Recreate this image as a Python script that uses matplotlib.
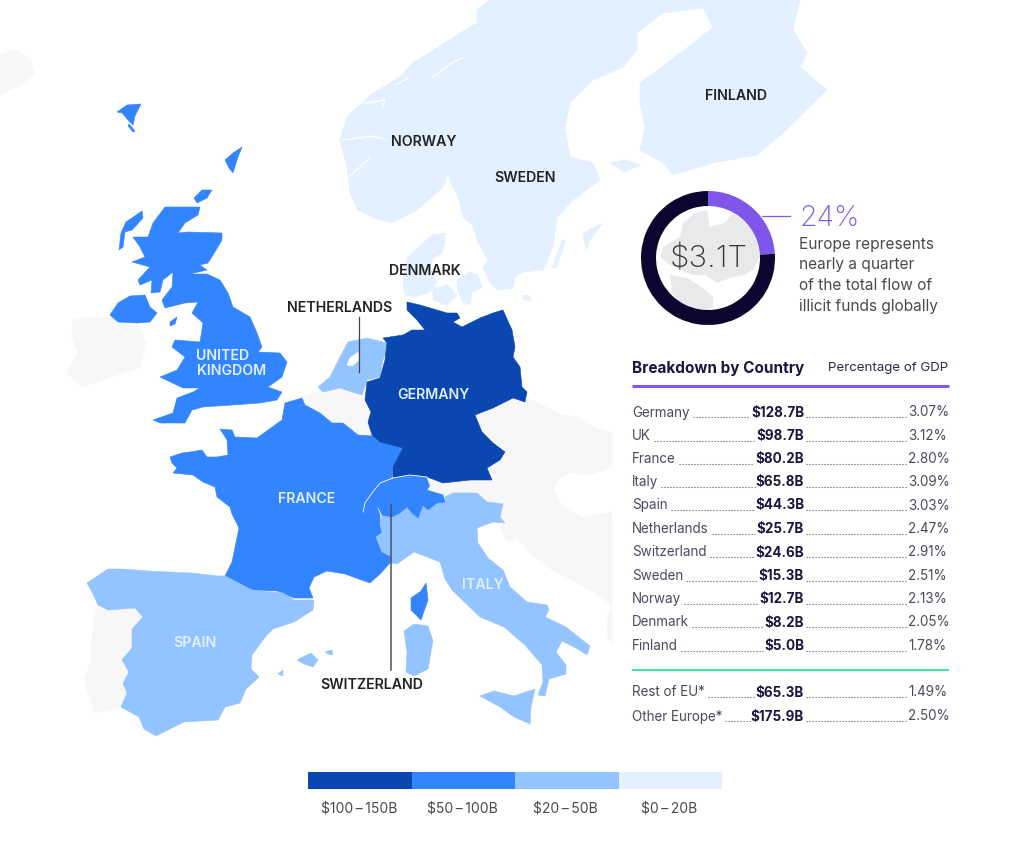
import matplotlib
matplotlib.use("Agg")
import matplotlib.pyplot as plt
from matplotlib.patches import Polygon, Wedge, Circle

plt.rcParams["font.family"] = ["Inter", "DejaVu Sans"]

DARK = "#0b47b1"
MID = "#3285ff"
LIGHT = "#94c4ff"
PALE = "#e2f0ff"
GREY = "#f7f7f7"
NAVY = "#0a0630"
PURPLE = "#7f56ea"
GREEN = "#2ee58f"

# --- table -------------------------------------------------------------------
countries = ["Germany", "UK", "France", "Italy", "Spain", "Netherlands", "Switzerland",
             "Sweden", "Norway", "Denmark", "Finland"]
amounts = ["$128.7B", "$98.7B", "$80.2B", "$65.8B", "$44.3B", "$25.7B", "$24.6B",
           "$15.3B", "$12.7B", "$8.2B", "$5.0B"]
gdp_pct = ["3.07%", "3.12%", "2.80%", "3.09%", "3.03%", "2.47%", "2.91%",
           "2.51%", "2.13%", "2.05%", "1.78%"]
other_names = ["Rest of EU*", "Other Europe*"]
other_amounts = ["$65.3B", "$175.9B"]
other_pct = ["1.49%", "2.50%"]

# --- donut + legend ----------------------------------------------------------
europe_share = 24
legend_labels = ["$100\u2009–\u2009150B", "$50\u2009–\u2009100B", "$20\u2009–\u200950B", "$0\u2009–\u200920B"]
legend_colors = [DARK, MID, LIGHT, PALE]

# --- map outlines (x, y in image pixels) -------------------------------------
great_britain = [(165, 207), (200, 207), (198, 215), (185, 223), (178, 233), (188, 232), (222, 233), (222, 240),
                 (213, 255), (208, 263), (200, 265), (207, 270), (190, 274), (207, 274), (220, 280), (228, 293),
                 (233, 307), (250, 317), (257, 333), (262, 347), (258, 352), (280, 353), (287, 362), (282, 377),
                 (268, 387), (282, 392), (277, 400), (260, 403), (232, 405), (203, 407), (192, 410), (185, 423),
                 (160, 423), (153, 420), (173, 413), (177, 398), (193, 392), (208, 383), (200, 388), (183, 388),
                 (160, 377), (177, 370), (185, 357), (172, 347), (175, 340), (200, 342), (203, 323), (192, 313),
                 (198, 302), (185, 303), (165, 308), (162, 300), (172, 287), (173, 272), (163, 280), (160, 292),
                 (151, 293), (152, 280), (140, 285), (138, 280), (150, 267), (132, 262), (145, 257), (140, 247),
                 (133, 237), (148, 237), (153, 223)]
n_ireland = [(110, 315), (118, 303), (130, 296), (145, 295), (150, 307), (157, 313), (150, 322), (137, 323), (118, 322)]
uk_islands = [[(117, 112), (127, 105), (141, 104), (135, 116), (133, 125), (128, 120), (122, 113)],
              [(129, 124), (135, 131), (133, 132), (128, 126)],
              [(225, 160), (233, 153), (242, 147), (238, 157), (233, 173), (229, 168)],
              [(194, 198), (202, 190), (212, 190), (207, 198), (197, 203)],
              [(126, 222), (142, 211), (143, 218), (132, 230), (125, 232), (123, 247), (119, 250), (121, 233)],
              [(170, 322), (177, 317), (175, 324), (170, 326)]]
ireland = [(73, 320), (95, 317), (115, 318), (108, 310), (125, 297), (130, 296), (118, 303), (110, 315), (118, 322),
           (137, 323), (146, 343), (140, 367), (110, 377), (83, 387), (67, 373), (78, 353), (72, 337)]
netherlands = [(387, 343), (367, 338), (348, 342), (340, 357), (330, 377), (318, 387), (323, 392), (340, 388),
               (352, 392), (362, 395), (367, 380), (380, 377), (383, 360), (387, 350)]
ijsselmeer = [(347, 365), (350, 358), (358, 352), (359, 360), (352, 366)]
germany = [(407, 302), (420, 305), (437, 310), (447, 313), (457, 313), (460, 318), (453, 322), (462, 327), (480, 318),
           (493, 313), (503, 310), (512, 330), (515, 347), (513, 357), (520, 367), (522, 387), (527, 392), (525, 402),
           (513, 398), (493, 408), (475, 415), (482, 432), (493, 443), (505, 452), (500, 460), (487, 468), (492, 480),
           (470, 480), (443, 483), (427, 477), (410, 475), (393, 478), (393, 467), (403, 448), (380, 442), (372, 435),
           (368, 422), (371, 412), (365, 400), (367, 382), (380, 378), (385, 360), (387, 343), (383, 338), (403, 335),
           (412, 330), (425, 330), (417, 320), (407, 310)]
belgium = [(302, 397), (317, 392), (340, 388), (362, 395), (365, 403), (371, 413), (368, 423), (373, 435), (358, 435),
           (343, 423), (332, 423), (320, 410), (305, 405)]
france = [(302, 398), (305, 405), (320, 413), (332, 423), (343, 423), (358, 435), (373, 436), (380, 442), (403, 448),
          (393, 467), (392, 478), (380, 483), (365, 507), (363, 512), (377, 507), (380, 515), (380, 523), (382, 533),
          (376, 537), (382, 552), (392, 557), (390, 563), (380, 574), (370, 583), (345, 574), (327, 571), (314, 577),
          (309, 588), (313, 598), (294, 598), (277, 591), (249, 590), (232, 581), (225, 576), (232, 562), (239, 528),
          (232, 514), (230, 507), (217, 497), (215, 487), (203, 482), (193, 475), (173, 473), (177, 468), (172, 463),
          (170, 457), (182, 453), (190, 452), (202, 450), (207, 457), (217, 457), (228, 455), (227, 440), (220, 429),
          (232, 430), (235, 437), (257, 438), (282, 420), (285, 403)]
switzerland = [(380, 483), (393, 478), (410, 475), (427, 477), (430, 485), (427, 490), (443, 495), (445, 502), (437, 503),
               (428, 510), (423, 505), (418, 518), (412, 513), (407, 507), (400, 513), (392, 517), (382, 515), (378, 507),
               (363, 512), (365, 503), (372, 493)]
central_europe = [(525, 402), (527, 398), (552, 410), (562, 415), (577, 417), (593, 427), (612, 433), (612, 467), (590, 475),
                  (570, 472), (558, 480), (553, 490), (563, 507), (583, 518), (612, 512), (612, 607), (603, 598), (577, 583),
                  (547, 567), (530, 553), (517, 537), (508, 542), (500, 527), (505, 522), (502, 515), (503, 504), (487, 502),
                  (477, 493), (453, 493), (443, 497), (427, 488), (430, 482), (443, 483), (470, 480), (492, 480), (487, 468),
                  (500, 460), (505, 452), (493, 443), (482, 432), (475, 415), (493, 408), (513, 398)]
albania = [(608, 613), (612, 607), (612, 643), (607, 638)]
iceland = [(0, 55), (15, 50), (30, 60), (35, 75), (15, 88), (0, 95)]
italy = [(445, 497), (453, 493), (477, 493), (487, 502), (503, 504), (500, 517), (505, 523), (493, 522), (477, 528),
         (478, 543), (488, 558), (503, 570), (510, 587), (527, 602), (547, 605), (549, 610), (545, 617), (566, 627),
         (590, 646), (587, 655), (576, 648), (562, 641), (556, 652), (566, 665), (566, 674), (549, 679), (545, 696),
         (538, 695), (543, 682), (542, 665), (525, 645), (504, 627), (480, 617), (452, 590), (445, 579), (440, 562),
         (414, 552), (397, 564), (390, 563), (392, 557), (382, 552), (376, 537), (382, 533), (380, 523), (382, 515),
         (392, 517), (400, 513), (407, 507), (412, 513), (418, 518), (423, 505), (428, 510), (437, 503), (445, 502)]
sicily = [(480, 696), (494, 691), (514, 696), (535, 689), (531, 707), (530, 724), (514, 717), (500, 707)]
sardinia = [(404, 631), (414, 624), (428, 626), (433, 641), (428, 669), (414, 676), (406, 672), (407, 652)]
corsica = [(426, 583), (428, 600), (421, 620), (411, 610), (411, 598), (421, 591)]
balearics = [[(297, 660), (311, 653), (318, 660), (313, 667), (304, 664)],
             [(325, 652), (332, 650), (333, 655), (328, 654)],
             [(278, 674), (283, 670), (283, 676)]]
spain = [(87, 583), (108, 569), (122, 569), (149, 571), (191, 573), (218, 576), (225, 576), (252, 590), (283, 593),
         (294, 600), (314, 600), (313, 610), (294, 622), (273, 629), (266, 636), (252, 655), (251, 669), (259, 677),
         (246, 689), (240, 703), (225, 707), (218, 720), (184, 722), (156, 736), (144, 729), (139, 717), (121, 707),
         (127, 693), (123, 683), (129, 672), (122, 660), (132, 648), (132, 629), (143, 617), (135, 608), (108, 610),
         (98, 605), (94, 596)]
portugal = [(96, 608), (108, 610), (135, 608), (143, 617), (132, 629), (132, 648), (122, 660), (129, 672), (123, 683),
            (127, 693), (121, 707), (94, 713), (84, 679), (91, 662), (92, 638)]
scandinavia = [(490, 0), (477, 10), (477, 23), (460, 33), (413, 63), (400, 77), (373, 93), (347, 117), (340, 140), (347, 167),
               (350, 193), (358, 210), (373, 218), (392, 223), (417, 210), (443, 187), (448, 177), (458, 197), (463, 217),
               (472, 225), (478, 242), (488, 260), (483, 268), (490, 283), (497, 290), (513, 288), (515, 277), (523, 272),
               (543, 270), (553, 247), (557, 217), (573, 200),
               (600, 180), (593, 163), (570, 157), (565, 127), (570, 103), (593, 80), (623, 67), (637, 50), (637, 33),
               (663, 13), (703, 8), (713, 27), (697, 40), (667, 63), (640, 83), (640, 103), (645, 127), (640, 150),
               (663, 163), (673, 175), (713, 163), (757, 155), (783, 133), (827, 90), (800, 67), (807, 53), (793, 30),
               (800, 0)]
nordic_bits = [[(610, 163), (625, 160), (640, 165), (625, 172)],
               [(583, 233), (603, 223), (590, 240), (586, 250)],
               [(552, 268), (562, 240), (566, 240), (556, 268)],
               [(403, 282), (407, 258), (432, 235), (445, 233), (445, 242), (442, 253), (433, 258), (430, 268), (437, 282),
                (430, 292), (415, 297), (405, 295)],
               [(433, 288), (448, 285), (457, 295), (447, 305), (433, 300)],
               [(457, 280), (470, 272), (478, 275), (482, 287), (472, 293), (470, 305), (462, 302), (458, 290)],
               [(523, 295), (530, 296), (531, 301), (524, 300)]]
fjords = [[(343, 140), (372, 136), (386, 140)], [(370, 158), (350, 176)], [(433, 77), (450, 64), (462, 58)],
          [(365, 103), (385, 100), (382, 108)], [(396, 85), (408, 78)], [(448, 177), (447, 190)]]
globe_land = [[(663, 247), (680, 237), (683, 223), (695, 213), (707, 210), (710, 227), (725, 223), (733, 213), (747, 223),
               (757, 237), (760, 257), (753, 270), (743, 275), (730, 278), (717, 283), (705, 275), (693, 275), (680, 270),
               (667, 263), (660, 257)],
              [(670, 275), (687, 278), (703, 288), (713, 297), (713, 307), (700, 312), (683, 307), (672, 293)]]

fig = plt.figure(figsize=(10.24, 8.52), dpi=100)
ax = fig.add_axes([0, 0, 1, 1])
ax.set_xlim(0, 1024)
ax.set_ylim(852, 0)
ax.axis("off")


def land(pts, color, z=1):
    ax.add_patch(Polygon(pts, closed=True, fc=color, ec=color, lw=0.4, zorder=z))


for shape in [ireland, belgium, central_europe, albania, iceland, portugal]:
    land(shape, GREY)
land(scandinavia, PALE)
for shape in nordic_bits:
    land(shape, PALE)
for line in fjords:
    ax.plot(*zip(*line), color="white", lw=1.0, zorder=2)
for shape in [great_britain, n_ireland] + uk_islands:
    land(shape, MID)
land(netherlands, LIGHT)
land(ijsselmeer, "white", 2)
land(france, MID, 2)
land(corsica, MID, 2)
land(germany, DARK, 2)
for shape in [italy, sicily, sardinia, spain] + balearics:
    land(shape, LIGHT, 2)
land(switzerland, MID, 3)
ax.plot(*zip(*switzerland[18:] + switzerland[:5]), color="white", lw=0.6, zorder=4)

# leader lines
ax.plot([359, 359], [317, 372], color="#444444", lw=0.9, zorder=5)
ax.plot([391, 391], [505, 670], color="#4a4f66", lw=1.1, zorder=5)

# country names
dark_names = [("NORWAY", 424, 142), ("SWEDEN", 525, 178), ("FINLAND", 736, 96), ("DENMARK", 425, 271),
              ("NETHERLANDS", 340, 308), ("SWITZERLAND", 372, 685)]
light_names = [("UNITED", 223, 356), ("KINGDOM", 232, 371), ("GERMANY", 433, 395), ("FRANCE", 307, 499),
               ("SPAIN", 195, 643), ("ITALY", 483, 585)]
for name, x, y in dark_names:
    ax.text(x, y, name, ha="center", va="center", fontsize=10.2, fontweight="semibold", color="#222222", zorder=6)
for name, x, y in light_names:
    ax.text(x, y, name, ha="center", va="center", fontsize=10.2, fontweight="semibold", color=PALE, zorder=6)

# donut
cx, cy, r_out, r_in = 708, 258, 67, 52
ax.add_patch(Circle((cx, cy), r_in, fc="white", ec="none", zorder=3))
clip = Circle((cx, cy), r_in, transform=ax.transData)
for shape in globe_land:
    p = Polygon(shape, closed=True, fc="#e8e9eb", ec="none", zorder=3)
    ax.add_patch(p)
    p.set_clip_path(clip)
# y axis points down, so angles run clockwise from +x
start = -90
end = start + europe_share / 100 * 360
ax.add_patch(Wedge((cx, cy), r_out, start, end, width=r_out - r_in, fc=PURPLE, ec="none", zorder=4))
ax.add_patch(Wedge((cx, cy), r_out, end, start + 360, width=r_out - r_in, fc=NAVY, ec="none", zorder=4))
ax.text(cx + 1, cy + 1, "$3.1T", ha="center", va="center", fontsize=22.5, fontweight="light", color="#333333", zorder=6)
ax.plot([762, 790], [216, 216], color=PURPLE, lw=0.9, zorder=3)
ax.text(799, 218, f"{europe_share}%", ha="left", va="center", fontsize=20.5, fontweight="light", color=PURPLE)
blurb = ["Europe represents", "nearly a quarter", "of the total flow of", "illicit funds globally"]
for line, y in zip(blurb, [244, 265, 285, 306]):
    ax.text(799, y, line, ha="left", va="center", fontsize=11.1, color="#4a4a4a")

# table
ax.text(632, 368, "Breakdown by Country", ha="left", va="center", fontsize=11, fontweight="bold", color="#1a1640")
ax.text(948, 368, "Percentage of GDP", ha="right", va="center", fontsize=9.6, color="#2c2850")
ax.plot([632, 949], [386, 386], color=PURPLE, lw=2.2, solid_capstyle="butt")
ax.plot([632, 949], [670, 670], color=GREEN, lw=1.3, solid_capstyle="butt")

renderer = fig.canvas.get_renderer()


def row(name, amount, pct, y):
    t0 = ax.text(632, y, name, ha="left", va="center", fontsize=9.7, color="#4a4a60")
    t1 = ax.text(804, y, amount, ha="right", va="center", fontsize=9.7, fontweight="bold", color="#1a1640")
    t2 = ax.text(908, y, pct, ha="left", va="center", fontsize=9.7, color="#4a4a60")
    x0 = t0.get_window_extent(renderer).x1 + 3
    x1 = t1.get_window_extent(renderer).x0 - 1
    x2 = t1.get_window_extent(renderer).x1 + 2
    x3 = t2.get_window_extent(renderer).x0 - 1
    for a, b in [(x0, x1), (x2, x3)]:
        ax.plot([a, b], [y + 4.5, y + 4.5], color="#55556a", lw=0.8, linestyle=(0, (1, 1.7)))


row_y = [412.5, 436, 459, 482, 505.5, 529, 552.5, 576, 599, 622.5, 646]
for name, amount, pct, y in zip(countries, amounts, gdp_pct, row_y):
    row(name, amount, pct, y)
for name, amount, pct, y in zip(other_names, other_amounts, other_pct, [692.5, 716.5]):
    row(name, amount, pct, y)

# legend
seg_w = 103.5
for i, (lab, col) in enumerate(zip(legend_labels, legend_colors)):
    left = 308 + i * seg_w
    ax.barh(780, seg_w, height=17, left=left, color=col)
    ax.text(left + seg_w / 2 - 1, 808.5, lab, ha="center", va="center", fontsize=10, color="#4a4a4a")
ax.set_xlim(0, 1024)
ax.set_ylim(852, 0)

fig.savefig("out.png", dpi=100)
